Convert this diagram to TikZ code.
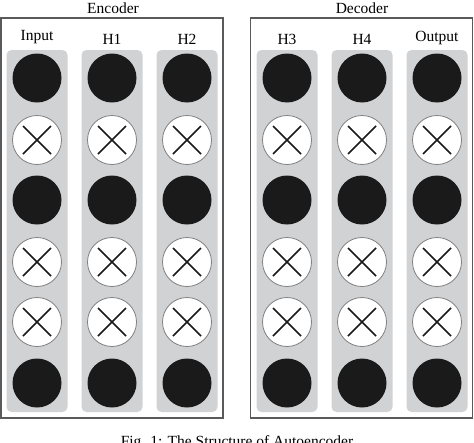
\documentclass[tikz,border=0pt]{standalone}
\usepackage{fontspec}
\setmainfont{Liberation Serif}
\definecolor{colgray}{HTML}{D1D2D4}
\definecolor{boxgray}{HTML}{5A5A5A}
\definecolor{dotblack}{HTML}{1A1A1A}
\tikzset{
  panel/.style={draw=boxgray, line width=1.5pt},
  column/.style={fill=colgray, rounded corners=5pt},
  fullunit/.style={circle, minimum size=49pt, inner sep=0pt, fill=dotblack},
  dropunit/.style={circle, minimum size=49pt, inner sep=0pt, fill=white, draw=gray, line width=0.8pt,
    path picture={\draw[line width=1.6pt, black!90] ([shift={(-14pt,-14pt)}]path picture bounding box.center) -- ([shift={(14pt,14pt)}]path picture bounding box.center)
      ([shift={(-14pt,14pt)}]path picture bounding box.center) -- ([shift={(14pt,-14pt)}]path picture bounding box.center);}},
  lbl/.style={font=\fontsize{15.5}{18}\selectfont, anchor=base, inner sep=0pt},
}
\begin{document}
\begin{tikzpicture}[x=1pt,y=-1pt]
\useasboundingbox (0,0) rectangle (474,442);
% panels
\draw[panel] (1,18) rectangle (223,418);
\draw[panel] (250.5,18) rectangle (472.5,418);
\node[lbl] (enc) at (113,13) {Encoder};
\node[lbl] (dec) at (362,13) {Decoder};
% columns
\foreach \x/\name/\ly [count=\i] in {37/Input/40.5, 112/H1/44, 187/H2/44, 287/H3/44, 362/H4/44, 437/Output/41.5} {
  \fill[column] (\x-30.5,50) rectangle (\x+30.5,412);
  \node[lbl] (lab\i) at (\x,\ly) {\name};
  \foreach \y/\kind [count=\j] in {78/fullunit, 140/dropunit, 200/fullunit, 262/dropunit, 322/dropunit, 383/fullunit} {
    \node[\kind] (u\i-\j) at (\x,\y) {};
  }
}
\node[lbl] (cap) at (237,446.5) {Fig. 1: The Structure of Autoencoder};
\end{tikzpicture}
\end{document}
